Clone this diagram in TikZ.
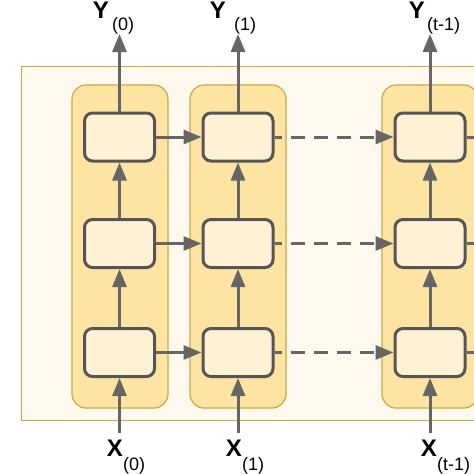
\documentclass[tikz,border=0pt]{standalone}
\usepackage{fontspec}
\setmainfont{Liberation Sans}
\usetikzlibrary{arrows.meta}
\definecolor{outerfill}{HTML}{FDF9EF}
\definecolor{goldline}{HTML}{C9AA3E}
\definecolor{colfill}{HTML}{FDE4A2}
\definecolor{cellfill}{HTML}{FFF2D4}
\definecolor{cellline}{HTML}{555555}
\definecolor{arrowgray}{HTML}{666666}
\tikzset{
  outerbox/.style={draw=goldline, fill=outerfill, line width=1.3pt},
  colbox/.style={draw=goldline, fill=colfill, line width=1.2pt, rounded corners=14pt},
  cell/.style={draw=cellline, fill=cellfill, line width=3pt, rounded corners=8pt,
               minimum width=70pt, minimum height=48pt, inner sep=0pt},
  flow/.style={draw=arrowgray, line width=3pt,
               -{Triangle[length=18pt,width=14pt,fill=arrowgray]}},
  plain/.style={draw=arrowgray, line width=3pt},
  dashflow/.style={flow, dash pattern=on 14pt off 9pt, dash phase=7pt},
  biglabel/.style={font=\bfseries\fontsize{24}{24}\selectfont, inner sep=0pt},
  sublabel/.style={font=\fontsize{18}{18}\selectfont, inner sep=0pt},
}
\begin{document}
\begin{tikzpicture}[x=1pt, y=-1pt]
\clip (0,0) rectangle (474,474);
\fill[white] (0,0) rectangle (474,474);
% outer box
\node[outerbox, minimum width=480pt, minimum height=354pt, anchor=north west, inner sep=0pt] (outer) at (21,66) {};
% columns
\foreach \c/\x in {0/120, 1/238, 2/430} {
  \node[colbox, minimum width=96pt, minimum height=323pt, inner sep=0pt] (col\c) at (\x,246.5) {};
}
% cells
\foreach \c/\x in {0/119.5, 1/238, 2/430} {
  \node[cell] (c\c t) at (\x,137) {};
  \node[cell] (c\c m) at (\x,243.5) {};
  \node[cell] (c\c b) at (\x,352.5) {};
}
% vertical arrows between rows
\foreach \c in {0,1,2} {
  \draw[flow] (c\c b.north) -- (c\c m.south);
  \draw[flow] (c\c m.north) -- (c\c t.south);
}
% output arrows and labels
\coordinate (ytip0) at (119.5,34);
\coordinate (ytip1) at (238,34);
\coordinate (ytip2) at (430,34);
\foreach \c in {0,1,2} {
  \draw[flow] (c\c t.north) -- (ytip\c);
}
\node[biglabel, anchor=base east] (Y0) at (109,18) {Y};
\node[sublabel, anchor=base west] (Y0s) at (112,30) {(0)};
\node[biglabel, anchor=base east] (Y1) at (226,18) {Y};
\node[sublabel, anchor=base west] (Y1s) at (234,30) {(1)};
\node[biglabel, anchor=base east] (Y2) at (425,18) {Y};
\node[sublabel, anchor=base west] (Y2s) at (427,30) {(t-1)};
% input arrows and labels
\coordinate (xstart0) at (119.5,433);
\coordinate (xstart1) at (238,433);
\coordinate (xstart2) at (430,433);
\foreach \c in {0,1,2} {
  \draw[flow] (xstart\c) -- (c\c b.south);
}
\node[biglabel, anchor=base east] (X0) at (123,456) {X};
\node[sublabel, anchor=base west] (X0s) at (123,470) {(0)};
\node[biglabel, anchor=base east] (X1) at (242,456) {X};
\node[sublabel, anchor=base west] (X1s) at (242,470) {(1)};
\node[biglabel, anchor=base east] (X2) at (437,456) {X};
\node[sublabel, anchor=base west] (X2s) at (437,470) {(t-1)};
% horizontal arrows
\foreach \r in {t,m,b} {
  \draw[flow] (c0\r.east) -- (c1\r.west);
  \draw[dashflow] (c1\r.east) -- (c2\r.west);
  \coordinate (out\r) at (c2\r.east -| 500,0);
  \draw[plain] (c2\r.east) -- (out\r);
}
\end{tikzpicture}
\end{document}
